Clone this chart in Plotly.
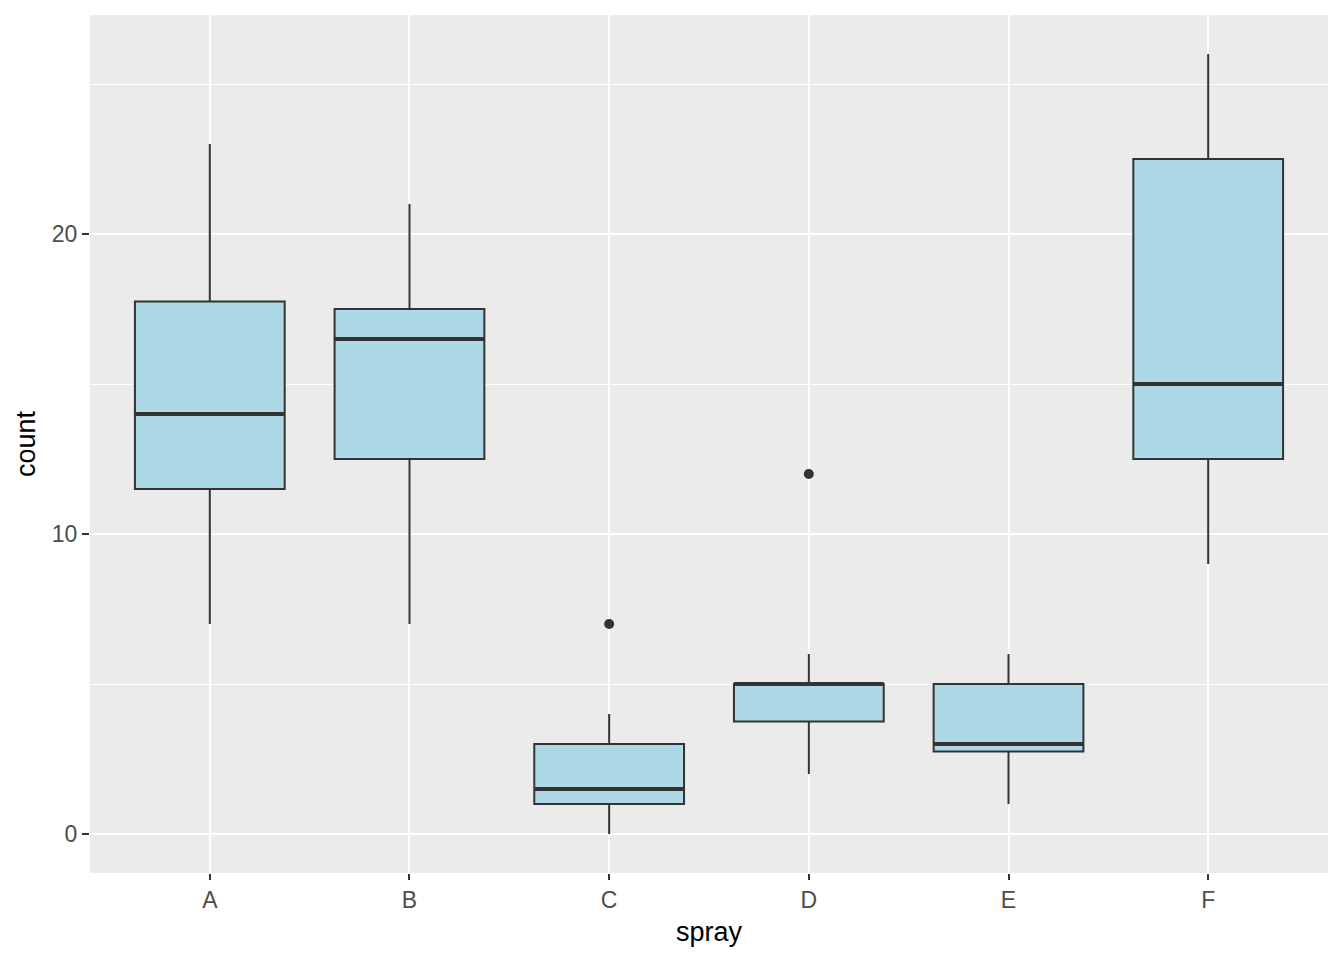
import numpy as np
import plotly.graph_objects as go

# InsectSprays counts per spray
sprays = ["A", "B", "C", "D", "E", "F"]
count_A = [10, 7, 20, 14, 14, 12, 10, 23, 17, 20, 14, 13]
count_B = [11, 17, 21, 11, 16, 14, 17, 17, 19, 21, 7, 13]
count_C = [0, 1, 7, 2, 3, 1, 2, 1, 3, 0, 1, 4]
count_D = [3, 5, 12, 6, 4, 3, 5, 5, 5, 5, 2, 4]
count_E = [3, 5, 3, 5, 3, 6, 1, 1, 3, 2, 6, 4]
count_F = [11, 9, 15, 22, 15, 16, 13, 10, 26, 26, 24, 13]
y_ticks = [0, 10, 20]

groups = [count_A, count_B, count_C, count_D, count_E, count_F]

q1s, meds, q3s, lows, highs = [], [], [], [], []
out_x, out_y = [], []
for s, vals in zip(sprays, groups):
    v = np.array(vals, dtype=float)
    q1, med, q3 = np.percentile(v, [25, 50, 75])
    iqr = q3 - q1
    lo_f, hi_f = q1 - 1.5 * iqr, q3 + 1.5 * iqr
    inside = v[(v >= lo_f) & (v <= hi_f)]
    q1s.append(q1); meds.append(med); q3s.append(q3)
    lows.append(inside.min()); highs.append(inside.max())
    for o in v[(v < lo_f) | (v > hi_f)]:
        out_x.append(s); out_y.append(o)

fig = go.Figure()
fig.add_trace(go.Box(
    x=sprays, q1=q1s, median=meds, q3=q3s, lowerfence=lows, upperfence=highs,
    fillcolor="#ADD8E6", line=dict(color="#333333", width=2),
    width=0.75, whiskerwidth=0, boxpoints=False, hoverinfo="skip", showlegend=False,
))
# thicker median line overlay
fig.add_trace(go.Box(
    x=sprays, q1=meds, median=meds, q3=meds, lowerfence=meds, upperfence=meds,
    fillcolor="rgba(0,0,0,0)", line=dict(color="#333333", width=4),
    width=0.75, whiskerwidth=0, boxpoints=False, hoverinfo="skip", showlegend=False,
))
fig.add_trace(go.Scatter(
    x=out_x, y=out_y, mode="markers",
    marker=dict(color="#333333", size=10),
    hoverinfo="skip", showlegend=False,
))

fig.update_layout(
    width=1336, height=952,
    margin=dict(l=82, r=16, t=7, b=87),
    paper_bgcolor="white", plot_bgcolor="#EBEBEB",
    boxmode="overlay",
    font=dict(family="Liberation Sans, Arial, sans-serif"),
    xaxis=dict(
        type="category", categoryorder="array", categoryarray=sprays,
        range=[-0.6, 5.6], showgrid=True, gridcolor="white", gridwidth=2,
        ticks="outside", ticklen=6, tickwidth=2, tickcolor="#333333",
        tickfont=dict(size=23, color="#4D4D4D"),
        title=dict(text="spray", font=dict(size=27, color="black"), standoff=10),
        zeroline=False, showline=False,
    ),
    yaxis=dict(
        range=[-1.3, 27.3], tickvals=y_ticks, ticktext=[str(t) for t in y_ticks],
        showgrid=True, gridcolor="white", gridwidth=2,
        minor=dict(dtick=5, tick0=5, showgrid=True, gridcolor="white", gridwidth=1, ticks=""),
        ticks="outside", ticklen=7, tickwidth=2, tickcolor="#333333",
        tickfont=dict(size=23, color="#4D4D4D"),
        title=dict(text="count", font=dict(size=27, color="black"), standoff=8),
        zeroline=False, showline=False,
    ),
)

fig.write_html("out.html")
